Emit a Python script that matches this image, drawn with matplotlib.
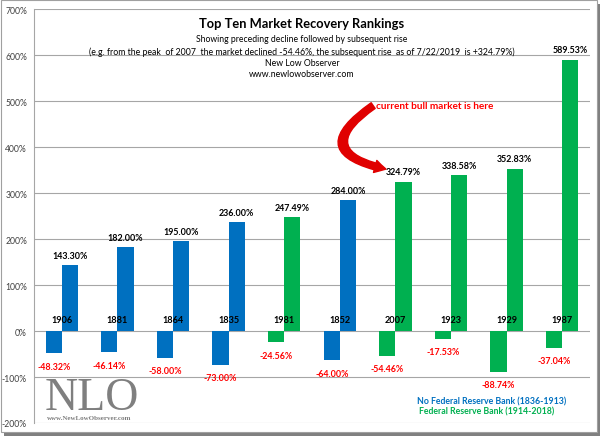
import matplotlib
matplotlib.use("Agg")
import matplotlib.pyplot as plt
from matplotlib.patches import FancyArrowPatch, Rectangle
from matplotlib.ticker import FuncFormatter, MultipleLocator
import numpy as np

years = ["1906", "1881", "1864", "1835", "1981", "1852", "2007", "1923", "1929", "1987"]
declines = [-48.32, -46.14, -58.00, -73.00, -24.56, -64.00, -54.46, -17.53, -88.74, -37.04]
rises = [143.30, 182.00, 195.00, 236.00, 247.49, 284.00, 324.79, 338.58, 352.83, 589.53]
fed_era = [False, False, False, False, True, False, True, True, True, True]

BLUE = "#0070C0"
GREEN = "#00B050"
plt.rcParams['font.family'] = ['Lato', 'DejaVu Sans']

fig = plt.figure(figsize=(6.04, 4.39), dpi=100)
fig.patch.set_facecolor("white")

# chart border with shadow
W, H = 604, 439
fig.patches.append(Rectangle((4 / W, 1 - 437 / H), 596 / W, 432 / H, transform=fig.transFigure,
                             facecolor="#808080", edgecolor="none", zorder=0))
fig.patches.append(Rectangle((1 / W, 1 - 433 / H), 596 / W, 432 / H, transform=fig.transFigure,
                             facecolor="white", edgecolor="#a0a0a0", lw=0.8, zorder=1))

ax = fig.add_axes([34 / W, 1 - 424 / H, 556 / W, 414 / H])
ax.set_zorder(2)
ax.set_facecolor("none")
x = np.arange(len(years))
bw = 0.29
colors = [GREEN if f else BLUE for f in fed_era]
ax.bar(x - bw / 2, declines, width=bw, color=colors, zorder=3)
ax.bar(x + bw / 2, rises, width=bw, color=colors, zorder=3)

ax.set_xlim(-0.5, len(years) - 0.5)
ax.set_ylim(-200, 700)
ax.yaxis.set_major_locator(MultipleLocator(100))
ax.yaxis.set_major_formatter(FuncFormatter(lambda v, p: f"{int(v)}%"))
ax.grid(axis="y", color="#a6a6a6", lw=0.8, zorder=0)
ax.set_xticks([])
for s in ["top", "right", "bottom"]:
    ax.spines[s].set_visible(False)
ax.spines["left"].set_color("#a6a6a6")
ax.tick_params(axis="y", length=0, labelsize=6.2, labelcolor="#404040", pad=5)

for i in range(len(years)):
    ax.annotate(f"{rises[i]:.2f}%", (x[i] + bw / 2, rises[i]), xytext=(0, 4),
                textcoords="offset points", ha="center", va="bottom",
                fontsize=6.4, fontweight="bold", color="black")
    ax.annotate(f"{declines[i]:.2f}%", (x[i] - bw / 2, declines[i]), xytext=(0, -6),
                textcoords="offset points", ha="center", va="top",
                fontsize=6.4, fontweight="bold", color="#FF0000")
    ax.annotate(years[i], (x[i], 0), xytext=(0, 5), textcoords="offset points",
                ha="center", va="bottom", fontsize=6.6, fontweight="bold", color="black",
                zorder=5)

# titles
cx = 302 / W
fig.text(cx, 1 - 24 / H, "Top Ten Market Recovery Rankings", ha="center", va="center",
         fontsize=9.3, fontweight="bold", zorder=5)
fig.text(cx, 1 - 39 / H, "Showing preceding decline followed by subsequent rise", ha="center",
         va="center", fontsize=6.2, zorder=5)
fig.text(cx, 1 - 52 / H,
         "(e.g. from the peak  of 2007  the market declined -54.46%, the subsequent rise  as of 7/22/2019  is +324.79%)",
         ha="center", va="center", fontsize=6.3, zorder=5)
fig.text(cx, 1 - 63 / H, "New Low Observer", ha="center", va="center", fontsize=6.3, zorder=5)
fig.text(cx, 1 - 75 / H, "www.newlowobserver.com", ha="center", va="center", fontsize=6.3, zorder=5)

# annotation arrow
ax.text(5.65, 490, "current bull market is here", color="#FF0000", fontsize=7.2,
        fontweight="bold", ha="left", va="center")
arr = FancyArrowPatch((5.60, 490), (5.83, 352), connectionstyle="arc3,rad=1.15",
                      arrowstyle="simple,head_width=9,head_length=8,tail_width=5",
                      color="#E00000", zorder=6, mutation_scale=1, shrinkA=0, shrinkB=0)
ax.add_patch(arr)

# legend text
fig.text(417 / W, 1 - 402 / H, "No Federal Reserve Bank (1836-1913)", color=BLUE,
         fontsize=6.3, fontweight="bold", ha="left", va="center", zorder=5)
fig.text(419 / W, 1 - 412 / H, "Federal Reserve Bank (1914-2018)", color=GREEN,
         fontsize=6.3, fontweight="bold", ha="left", va="center", zorder=5)

# logo
fig.text(45 / W, 1 - 410 / H, "NLO", family="Liberation Serif", fontsize=33, color="#7f7f7f",
         ha="left", va="baseline", zorder=5)
fig.text(47 / W, 1 - 419 / H, "www.NewLowObserver.com", family="Liberation Serif",
         fontsize=5, fontweight="bold", color="#7f7f7f", ha="left", va="center", zorder=5)

fig.savefig("out.png", dpi=100)
